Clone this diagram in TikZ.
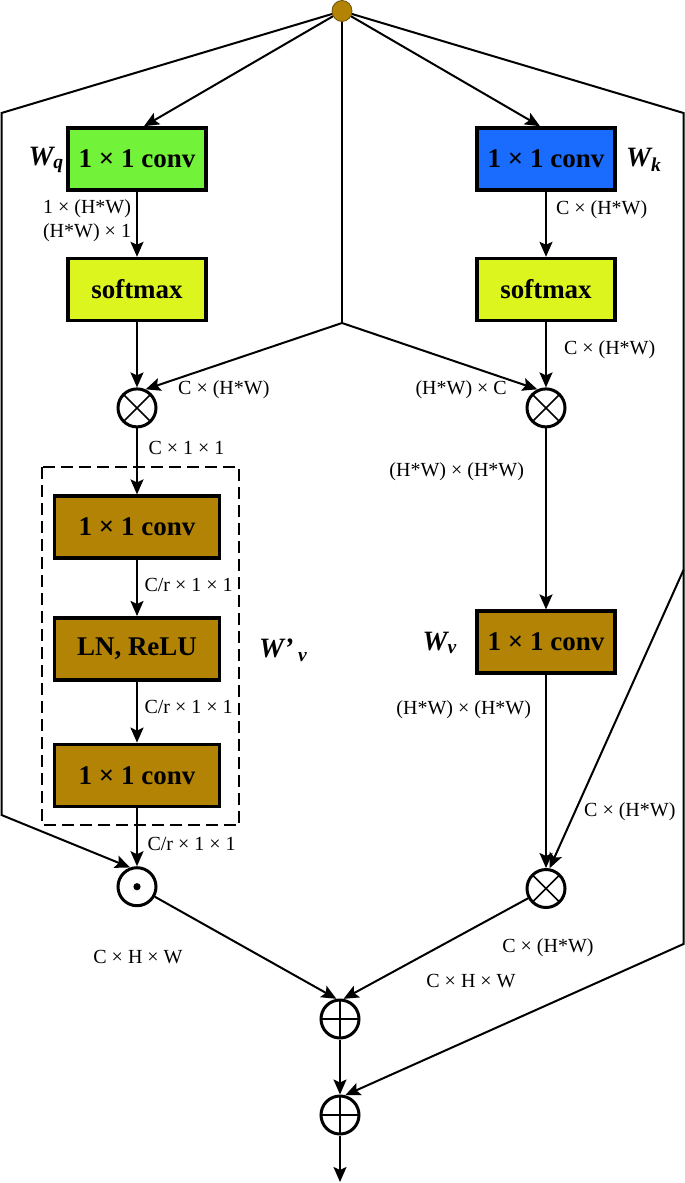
\documentclass[tikz,border=0pt]{standalone}
\usepackage{fontspec}
\setmainfont{Liberation Serif}
\usetikzlibrary{positioning,arrows.meta,shapes.geometric}
\definecolor{qgreen}{RGB}{115,242,58}
\definecolor{kblue}{RGB}{26,108,255}
\definecolor{softyellow}{RGB}{221,245,30}
\definecolor{vbrown}{RGB}{179,131,5}
\tikzset{
  convbox/.style={draw,line width=3.6pt,minimum width=138pt,minimum height=62pt,
    inner sep=2pt,font=\fontsize{27}{32}\selectfont\bfseries},
  widebox/.style={convbox,minimum width=165pt,fill=vbrown},
  opnode/.style={circle,draw,line width=3pt,minimum size=38pt,inner sep=0pt},
  mul/.style={opnode,path picture={\draw[line width=1.6pt]
    (path picture bounding box.north west)--(path picture bounding box.south east)
    (path picture bounding box.north east)--(path picture bounding box.south west);}},
  add/.style={opnode,path picture={\draw[line width=1.6pt]
    (path picture bounding box.north)--(path picture bounding box.south)
    (path picture bounding box.west)--(path picture bounding box.east);}},
  gated/.style={opnode,path picture={\fill (path picture bounding box.center) circle (3.6pt);}},
  dim/.style={font=\fontsize{20}{24}\selectfont,inner sep=0pt},
  wname/.style={font=\fontsize{28}{32}\selectfont\bfseries\itshape,inner sep=0pt},
  flow/.style={line width=2pt},
  >={Stealth[length=15pt,width=13pt,inset=3pt]}
}

\begin{document}
\begin{tikzpicture}[x=1pt,y=1pt]
    \useasboundingbox (0,0) rectangle (685,-1183);
    % input point and the query / key columns
    \node[ellipse,fill=vbrown,draw=vbrown!60!black,line width=0.8pt,minimum width=20pt,minimum height=21pt,inner sep=0pt] (in) at (342,-11) {};
    \node[convbox,fill=qgreen] (qconv) at (137,-159) {1 × 1 conv};
    \node[convbox,fill=softyellow,below=65pt of qconv] (qsoft) {softmax};
    \node[mul,below=65pt of qsoft] (mulq) {};
    \node[convbox,fill=kblue] (kconv) at (546,-159) {1 × 1 conv};
    \node[convbox,fill=softyellow,below=65pt of kconv] (ksoft) {softmax};
    \node[mul,below=65pt of ksoft] (mulk) {};
    % value branches
    \node[widebox,below=66pt of mulq] (vconv1) {1 × 1 conv};
    \node[widebox,below=56pt of vconv1] (vln) {LN, ReLU};
    \node[widebox,below=61pt of vln] (vconv2) {1 × 1 conv};
    \node[gated,below=58pt of vconv2] (gate) {};
    \node[convbox,fill=vbrown,below=181pt of mulk] (vconv) {1 × 1 conv};
    \node[mul,below=193pt of vconv] (mulv) {};
    \node[add] (addA) at (340,-1019) {};
    \node[add,below=55pt of addA] (addB) {};
    \draw[dashed,dash pattern=on 12pt off 6pt,line width=2pt]
      ([xshift=-11pt,yshift=27pt]vconv1.north west) rectangle ([xshift=18pt,yshift=-17pt]vconv2.south east);
    % weight names
    \node[wname,anchor=east] (wq) at (64,-160) {W\textsubscript{q}};
    \node[wname,anchor=west] (wk) at (626,-160) {W\textsubscript{k}};
    \node[wname,anchor=west] (wvp) at (259,-650) {W’\,\textsubscript{v}};
    \node[wname,anchor=east] (wv) at (457,-643) {W\textsubscript{v}};
    % bend points
    \coordinate (lt) at (1.5,-113);
    \coordinate (lb) at (1.5,-815);
    \coordinate (rt) at (683.5,-113);
    \coordinate (rm) at (683.5,-570);
    \coordinate (rb) at (683.5,-944);
    \coordinate (mid) at (342,-323);
    \coordinate (out) at (340,-1182);
    % connectors
    \draw[flow,->] (in) -- ([xshift=7pt]qconv.north);
    \draw[flow,->] (in) -- ([xshift=-6pt]kconv.north);
    \draw[flow] (in) -- (mid);
    \draw[flow,->] (mid) -- (mulq.65);
    \draw[flow,->] (mid) -- (mulk.115);
    \draw[flow,->] (in) -- (lt) -- (lb) -- (gate.110);
    \draw[flow,->] (in) -- (rt) -- (rb) -- (addB.75);
    \draw[flow,->] (rm) -- (mulv.80);
    \draw[flow,->] (qconv) -- node[dim,left=5pt,pos=0.45,align=center] (d1) {1 × (H*W)\\(H*W) × 1} (qsoft);
    \draw[flow,->] (qsoft) -- (mulq);
    \draw[flow,->] (kconv) -- node[dim,right=9pt,pos=0.28] (d2) {C × (H*W)} (ksoft);
    \draw[flow,->] (ksoft) -- node[dim,right=17pt,pos=0.42] (d3) {C × (H*W)} (mulk);
    \draw[flow,->] (mulq) -- node[dim,right=10.5pt,pos=0.3] (d6) {C × 1 × 1} (vconv1);
    \draw[flow,->] (vconv1) -- node[dim,right=6.5pt,pos=0.44] (d7) {C/r × 1 × 1} (vln);
    \draw[flow,->] (vln) -- node[dim,right=6.5pt,pos=0.42] (d8) {C/r × 1 × 1} (vconv2);
    \draw[flow,->] (vconv2) -- node[dim,right=9.5pt,pos=0.61] (d9) {C/r × 1 × 1} (gate);
    \draw[flow,->] (mulk) -- node[dim,left=21pt,pos=0.24] (d10) {(H*W) × (H*W)} (vconv);
    \draw[flow,->] (vconv) -- node[dim,left=14pt,pos=0.18] (d11) {(H*W) × (H*W)} (mulv);
    \draw[flow,->] (gate) -- (addA.100);
    \draw[flow,->] (mulv) -- (addA.80);
    \draw[flow,->] (addA) -- (addB);
    \draw[flow,->] (addB) -- (out);
    % free labels
    \node[dim,anchor=west] (d4) at (178,-390) {C × (H*W)};
    \node[dim,anchor=east] (d5) at (507,-390) {(H*W) × C};
    \node[dim,anchor=west] (d12) at (584,-812) {C × (H*W)};
    \node[dim] (d13) at (138,-957) {C × H × W};
    \node[dim] (d14) at (548,-948) {C × (H*W)};
    \node[dim] (d15) at (471,-981) {C × H × W};
\end{tikzpicture}
\end{document}
